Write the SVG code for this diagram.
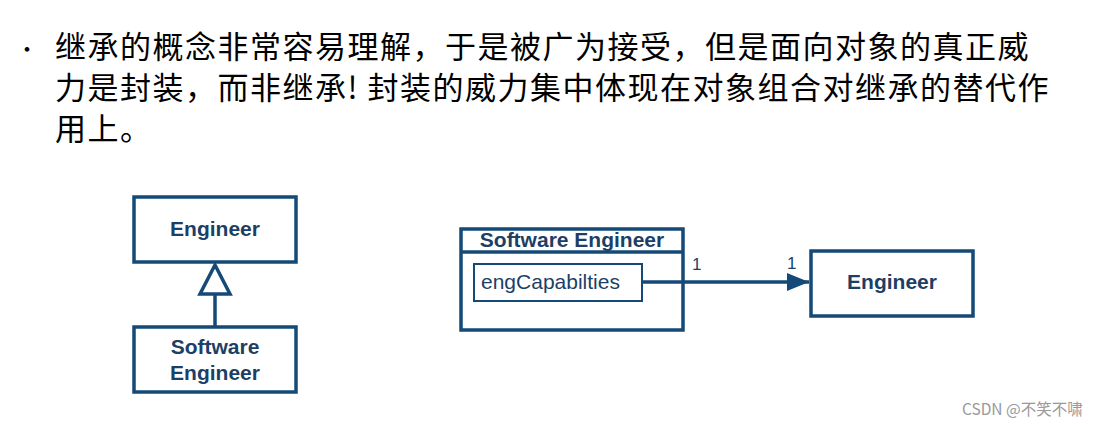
<svg xmlns="http://www.w3.org/2000/svg" width="1114" height="426" viewBox="0 0 1114 426">
<style>
.t{font-family:"Noto Sans CJK SC","Liberation Sans",sans-serif;font-size:31px;letter-spacing:1.5px;fill:#000}
.b{fill:#fff;stroke:#154a78;stroke-width:3.5}
.n{font-family:"Liberation Sans",Arial,sans-serif;font-weight:bold;font-size:21px;fill:#1d3f66;text-anchor:middle}
.a{font-family:"Liberation Sans",Arial,sans-serif;font-size:21px;fill:#1d3f66}
.c{stroke:#154a78;stroke-width:3.5;fill:none}
</style>
<defs><marker id="ah" markerWidth="22" markerHeight="18" refX="22" refY="9" orient="auto" markerUnits="userSpaceOnUse" viewBox="0 0 22 18"><path d="M0,0 L22,9 L0,18 z" fill="#154a78"/></marker></defs>
<rect width="1114" height="426" fill="#fff"/>
<text class="t" x="16" y="57" style="font-size:22px">•</text>
<text class="t" x="55" y="58">继承的概念非常容易理解，于是被广为接受，但是面向对象的真正威</text>
<text class="t" x="55" y="99">力是封装，而非继承! 封装的威力集中体现在对象组合对继承的替代作</text>
<text class="t" x="55" y="140">用上。</text>
<g id="engineer1"><rect class="b" x="134" y="197" width="162" height="65"/><text class="n" x="215" y="236">Engineer</text></g>
<g id="softeng1"><rect class="b" x="134" y="327" width="162" height="65"/><text class="n" x="215" y="354">Software</text><text class="n" x="215" y="380">Engineer</text></g>
<g id="softeng2"><rect class="b" x="461" y="229" width="222" height="101"/><line class="c" x1="461" y1="252" x2="683" y2="252"/><text class="n" x="572" y="247">Software Engineer</text>
<rect x="474" y="264" width="168" height="37" fill="#fff" stroke="#154a78" stroke-width="2"/><text class="a" x="481" y="289">engCapabilties</text></g>
<g id="engineer2"><rect class="b" x="811" y="251" width="162" height="65"/><text class="n" x="892" y="289">Engineer</text></g>
<g id="connectors">
<line class="c" x1="642" y1="282" x2="809" y2="282" marker-end="url(#ah)"/>
<line class="c" x1="215" y1="326" x2="215" y2="294"/>
<polygon points="215,265 200,294 230,294" fill="#fff" stroke="#154a78" stroke-width="3.5"/>
<text class="a" x="692" y="270" style="font-size:17px">1</text>
<text class="a" x="787" y="269" style="font-size:17px">1</text>
</g>
<text x="962" y="415" style="font-family:'Noto Sans CJK SC','Liberation Sans',sans-serif;font-size:15.5px;fill:#999">CSDN @不笑不啸</text>
</svg>
